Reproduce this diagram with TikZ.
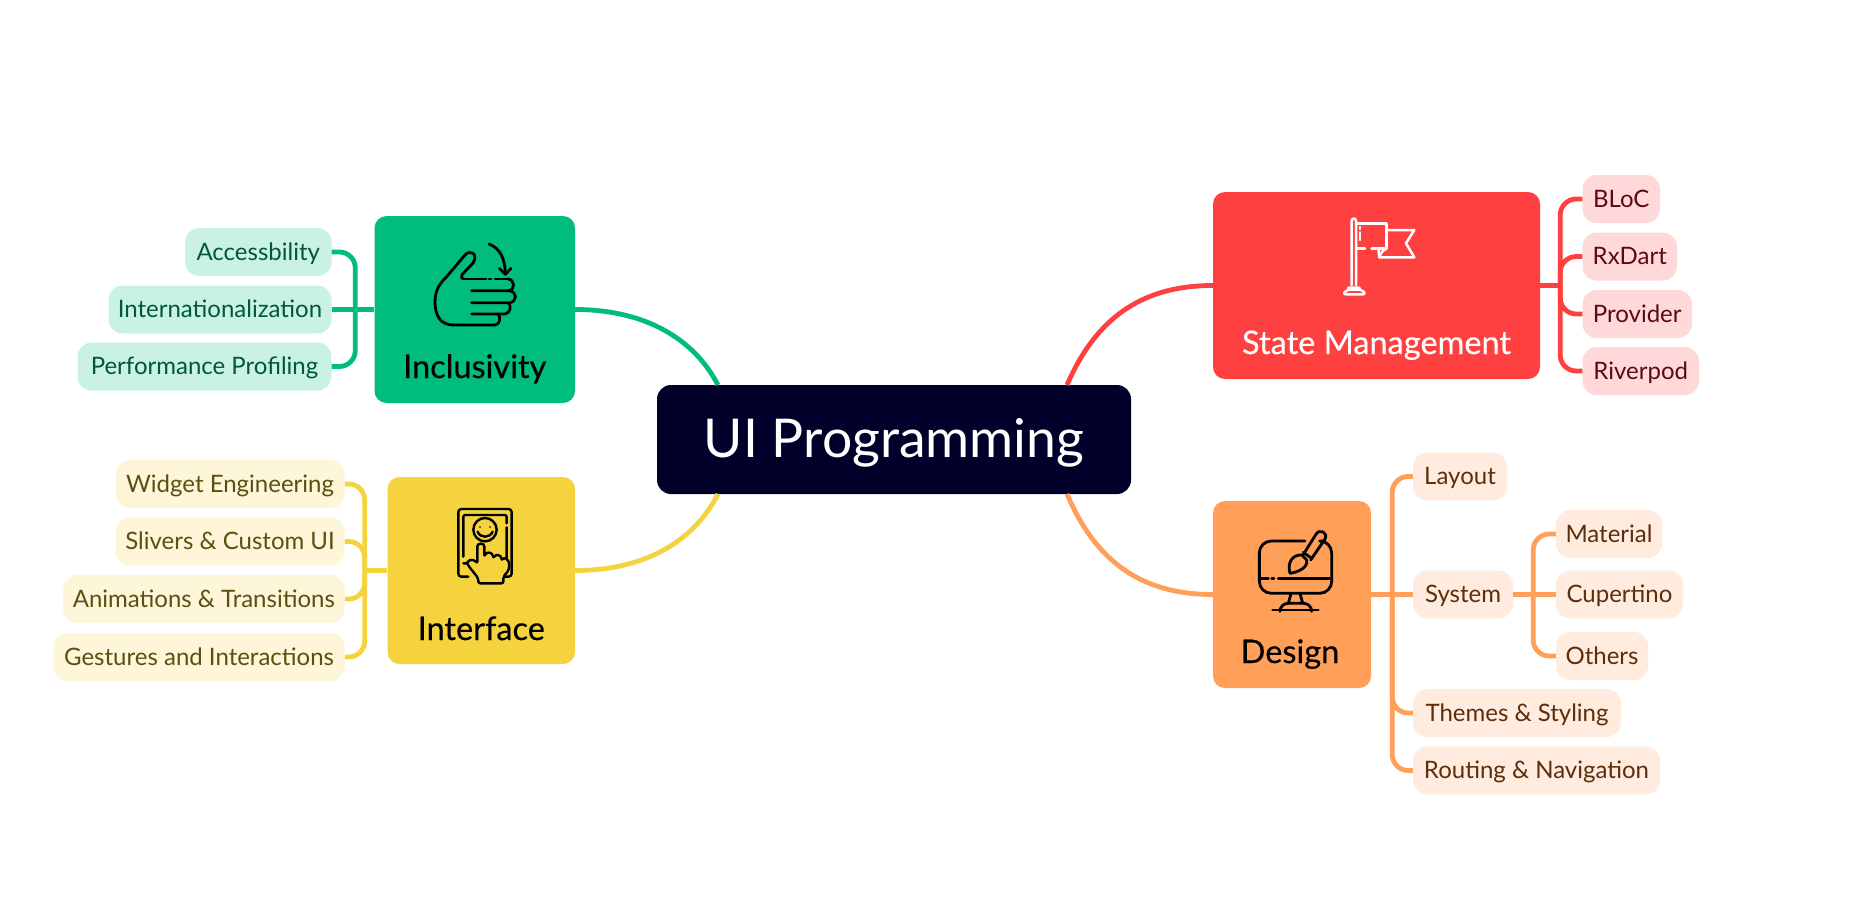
\documentclass[tikz,border=0pt]{standalone}
\usepackage{fontspec}
\setmainfont{Lato}
\newfontfamily\titlefont[FakeBold=0.35]{Lato}
\usetikzlibrary{positioning}
\definecolor{navy}{HTML}{00002A}
\definecolor{greenmain}{HTML}{00BD7E}
\definecolor{greenleaf}{HTML}{C9F2E5}
\definecolor{greentext}{HTML}{00573A}
\definecolor{yellowmain}{HTML}{F5D33F}
\definecolor{yellowleaf}{HTML}{FDF6D8}
\definecolor{yellowtext}{HTML}{5C4F12}
\definecolor{redmain}{HTML}{FF4040}
\definecolor{redleaf}{HTML}{FFD9D9}
\definecolor{redtext}{HTML}{5C0A10}
\definecolor{orangemain}{HTML}{FF9F58}
\definecolor{orangeleaf}{HTML}{FFECDF}
\definecolor{orangetext}{HTML}{5C2E0C}
\tikzset{
	topicstyle/.style={rectangle, rounded corners=12, inner sep=0pt, minimum height=187},
	titlestyle/.style={inner sep=0pt, anchor=base, font=\titlefont\fontsize{32.5}{39}\selectfont},
	leafstyle/.style={rectangle, rounded corners=14, inner sep=0pt, minimum height=48, text height=20, text depth=4, font=\fontsize{24}{29}\selectfont},
	greenleafstyle/.style={leafstyle, fill=greenleaf, text=greentext},
	yellowleafstyle/.style={leafstyle, fill=yellowleaf, text=yellowtext},
	redleafstyle/.style={leafstyle, fill=redleaf, text=redtext},
	orangeleafstyle/.style={leafstyle, fill=orangeleaf, text=orangetext},
	branch/.style={line width=4.8pt, rounded corners=16},
	icon/.style={line width=2.8pt, line cap=round, line join=round}
}
\begin{document}
\begin{tikzpicture}[x=1pt, y=-1pt]
	\useasboundingbox (0,0) rectangle (1870,900);
	\node[rectangle, rounded corners=14, inner sep=0pt, fill=navy, text=white, minimum width=474, minimum height=109, text height=40, text depth=5, font=\fontsize{53.5}{64}\selectfont] (ui) at (894,439.5) {UI Programming};

	\node[topicstyle, fill=greenmain, minimum width=200.5] (inclusivity) at (474.75,309.5) {};
	\node[topicstyle, fill=yellowmain, minimum width=187.5] (interface) at (481.25,570.5) {};
	\node[topicstyle, fill=redmain, minimum width=327] (state) at (1376.5,285.5) {};
	\node[topicstyle, fill=orangemain, minimum width=158] (design) at (1292,594.5) {};

	\node[titlestyle, text=black] (inclusivitytitle) at (474.75,378) {Inclusivity};
	\node[titlestyle, text=black] (interfacetitle) at (481.25,640) {Interface};
	\node[titlestyle, text=white] (statetitle) at (1376.5,354) {State Management};
	\node[titlestyle, text=black] (designtitle) at (1290,663) {Design};

	\node[greenleafstyle, minimum width=146.5] (accessbility) at (258.25,252) {Accessbility};
	\node[greenleafstyle, minimum width=223] (international) at (220,309.5) {Internationalization};
	\node[greenleafstyle, minimum width=254] (performance) at (204.5,366.5) {Performance Profiling};

	\node[yellowleafstyle, minimum width=229] (widget) at (230.1,484) {Widget Engineering};
	\node[yellowleafstyle, minimum width=229] (slivers) at (230.1,541.5) {Slivers \& Custom UI};
	\node[yellowleafstyle, minimum width=281.5] (animations) at (203.85,599) {Animations \& Transitions};
	\node[yellowleafstyle, minimum width=291] (gestures) at (199.1,657) {Gestures and Interactions};

	\node[redleafstyle, minimum width=77.5] (bloc) at (1621.25,199) {BLoC};
	\node[redleafstyle, minimum width=94.5] (rxdart) at (1629.75,256.5) {RxDart};
	\node[redleafstyle, minimum width=109.5] (provider) at (1637.25,314) {Provider};
	\node[redleafstyle, minimum width=116.5] (riverpod) at (1640.75,371) {Riverpod};

	\node[orangeleafstyle, minimum width=94] (layout) at (1460,476.5) {Layout};
	\node[orangeleafstyle, minimum width=100] (system) at (1463,594.5) {System};
	\node[orangeleafstyle, minimum width=106] (material) at (1609,534) {Material};
	\node[orangeleafstyle, minimum width=127] (cupertino) at (1619.5,594.5) {Cupertino};
	\node[orangeleafstyle, minimum width=92] (others) at (1602,656) {Others};
	\node[orangeleafstyle, minimum width=208] (themes) at (1517,713) {Themes \& Styling};
	\node[orangeleafstyle, minimum width=247] (routing) at (1536.5,770.5) {Routing \& Navigation};

	\coordinate (uigreen) at (718,385);
	\coordinate (uiyellow) at (718,494);
	\coordinate (uired) at (1067,385);
	\coordinate (uiorange) at (1067,494);
	\draw[branch, greenmain] (inclusivity.east) .. controls (640,309.5) and (692,335) .. (uigreen);
	\draw[branch, yellowmain] (interface.east) .. controls (640,570.5) and (692,545) .. (uiyellow);
	\draw[branch, redmain] (state.west) .. controls (1140,285.5) and (1095,320) .. (uired);
	\draw[branch, orangemain] (design.west) .. controls (1140,594.5) and (1095,560) .. (uiorange);

	\coordinate[left=19pt of inclusivity.west] (greenstem);
	\coordinate[left=22.6pt of interface.west] (yellowstem);
	\coordinate[right=20pt of state.east] (redstem);
	\coordinate[right=21pt of design.east] (orangestem);
	\coordinate[right=20pt of system.east] (systemstem);

	\draw[branch, greenmain] (inclusivity.west)--(international.east);
	\draw[branch, greenmain] (greenstem) |- (accessbility.east);
	\draw[branch, greenmain] (greenstem) |- (performance.east);
	\draw[branch, yellowmain] (interface.west)--(yellowstem);
	\foreach \leaf in {widget,slivers,animations,gestures}
		\draw[branch, yellowmain] (yellowstem) |- (\leaf.east);
	\draw[branch, redmain] (state.east)--(redstem);
	\foreach \leaf in {bloc,rxdart,provider,riverpod}
		\draw[branch, redmain] (redstem) |- (\leaf.west);
	\draw[branch, orangemain] (design.east)--(system.west);
	\foreach \leaf in {layout,themes,routing}
		\draw[branch, orangemain] (orangestem) |- (\leaf.west);
	\draw[branch, orangemain] (system.east)--(cupertino.west);
	\foreach \leaf in {material,others}
		\draw[branch, orangemain] (systemstem) |- (\leaf.west);

	\begin{scope}[shift={(410,230)}, x=0.3333pt, y=-0.3333pt, icon, black]
		\draw (160,147)--(228,147) (237,147)--(243,147) (255,147)--(295,147);
		\draw (295,147) .. controls (315,150) and (315,178) .. (298,182)--(185,182);
		\draw (298,182) .. controls (322,186) and (322,214) .. (300,218)--(185,218);
		\draw (295,218) .. controls (305,228) and (302,248) .. (285,252)--(185,252);
		\draw (265,252) .. controls (273,262) and (270,284) .. (255,285)--(130,285);
		\draw (130,285) .. controls (90,285) and (75,255) .. (75,215) .. controls (75,175) and (95,155) .. (110,140)--(165,75);
		\draw (165,75) .. controls (180,58) and (205,70) .. (190,98)--(158,132) .. controls (152,140) and (155,147) .. (160,147);
		\draw (237,42) .. controls (270,55) and (285,85) .. (286,130);
		\draw (268,115)--(286,133)--(303,115);
	\end{scope}

	\begin{scope}[shift={(440,495)}, x=0.3333pt, y=-0.3333pt, icon, black, line width=2.4pt]
		\draw[rounded corners=3] (85,245)--(55,245)--(55,42)--(215,42)--(215,245)--(190,245);
		\draw[rounded corners=2] (112,205)--(70,205) (70,185)--(70,60)--(200,60)--(200,85) (200,97)--(200,225);
		\draw (135,104) circle[radius=35];
		\fill (120,96) circle[radius=2.8] (150,96) circle[radius=2.8];
		\draw (113,110) .. controls (120,130) and (150,130) .. (158,110);
		\draw[fill=yellowmain, rounded corners=2] (115,265)--(115,250)--(85,212) .. controls (78,198) and (98,188) .. (112,205)--(112,160) .. controls (112,143) and (133,143) .. (133,160)--(133,185) .. controls (140,168) and (158,172) .. (160,190) .. controls (168,176) and (184,180) .. (185,197) .. controls (192,186) and (207,194) .. (207,210)--(207,225)--(190,245)--(190,265)--cycle;
	\end{scope}

	\begin{scope}[shift={(1320,205)}, x=0.3333pt, y=-0.3333pt, icon, white, line width=2.5pt]
		\draw (95,240)--(95,48) .. controls (95,38) and (108,38) .. (108,48)--(108,240);
		\draw (85,255)--(85,248)--(118,248)--(120,255);
		\draw[rounded corners=3] (68,268)--(138,268)--(125,254)--(82,254)--cycle;
		\draw (108,55)--(200,55)--(200,130) (108,130)--(135,130) (155,130)--(200,130);
		\draw (200,130) .. controls (190,135) and (182,142) .. (178,157)--(175,132);
		\draw (200,75)--(283,75)--(258,115)--(283,157)--(178,157);
		\draw (120,66)--(120,72) (120,82)--(120,105);
	\end{scope}

	\begin{scope}[shift={(1240,515)}, x=0.3333pt, y=-0.3333pt, icon, black]
		\draw[rounded corners=12] (195,78)--(58,78)--(58,235)--(275,235)--(275,78)--(255,78);
		\draw (62,190)--(85,190) (95,190)--(102,190) (115,190)--(270,190);
		\draw (153,235)--(145,265) (180,235)--(188,265);
		\draw[rounded corners=8] (120,285)--(120,265)--(215,265)--(215,285);
		\draw (98,285)--(235,285);
		\draw (190,118)--(228,58) .. controls (238,40) and (265,52) .. (255,72)--(212,135);
		\draw (190,112)--(215,130);
		\draw (186,120) .. controls (160,118) and (140,140) .. (150,175) .. controls (170,172) and (205,160) .. (200,135)--(186,120);
	\end{scope}
\end{tikzpicture}
\end{document}
